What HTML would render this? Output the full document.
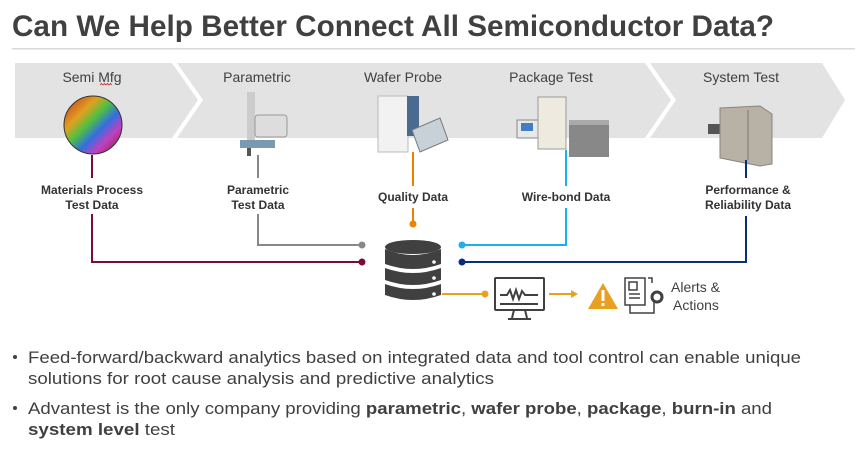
<!DOCTYPE html>
<html><head><meta charset="utf-8"><style>
html,body{margin:0;padding:0;background:#fff;}
svg{display:block;font-family:"Liberation Sans",Arial,sans-serif;}
</style></head><body>
<svg width="864" height="453" viewBox="0 0 864 453" xmlns="http://www.w3.org/2000/svg">
<defs>
<linearGradient id="wg" x1="0" y1="0" x2="1" y2="1">
<stop offset="0" stop-color="#c03020"/><stop offset="0.3" stop-color="#e0a020"/>
<stop offset="0.45" stop-color="#50c040"/><stop offset="0.6" stop-color="#3070e0"/>
<stop offset="0.75" stop-color="#c040c0"/><stop offset="1" stop-color="#802020"/>
</linearGradient>
</defs>
<!-- title -->
<text x="12" y="36" font-size="30" font-weight="bold" fill="#404040" textLength="762" lengthAdjust="spacingAndGlyphs">Can We Help Better Connect All Semiconductor Data?</text>
<rect x="12" y="48" width="843" height="1.5" fill="#d9d9d9"/>
<!-- chevron band -->
<polygon points="15,63 172,63 198,100 172,138 15,138" fill="#e3e3e3"/>
<polygon points="177,63 645,63 671,100 645,138 177,138 203,100" fill="#e3e3e3"/>
<polygon points="650,63 822,63 845,100 822,138 650,138 676,100" fill="#e3e3e3"/>
<g font-size="14" fill="#404040" text-anchor="middle">
<text x="92" y="82">Semi Mfg</text>
<text x="257" y="82">Parametric</text>
<text x="403" y="82">Wafer Probe</text>
<text x="551" y="82">Package Test</text>
<text x="741" y="82">System Test</text>
</g>
<path d="M100 85 l1.5 -1.5 l1.5 1.5 l1.5 -1.5 l1.5 1.5 l1.5 -1.5 l1.5 1.5 l1.5 -1.5 l1.5 1.5" fill="none" stroke="#d03030" stroke-width="0.8"/>
<!-- equipment -->
<circle cx="93" cy="125" r="29" fill="url(#wg)"/>
<circle cx="93" cy="125" r="29" fill="none" stroke="#333" stroke-width="1"/>
<g>
<rect x="247" y="92" width="8" height="50" fill="#ccc"/>
<rect x="255" y="115" width="32" height="22" rx="3" fill="#ddd" stroke="#999"/>
<rect x="240" y="140" width="35" height="8" fill="#7a9ab0"/>
<rect x="247" y="148" width="4" height="8" fill="#555"/>
</g>
<g>
<rect x="378" y="96" width="30" height="56" fill="#f2f2f2" stroke="#bbb"/>
<rect x="407" y="96" width="12" height="40" fill="#4a6a90"/>
<polygon points="412,130 440,118 448,140 420,152" fill="#c8d0d8" stroke="#777"/>
</g>
<g>
<rect x="517" y="120" width="22" height="18" fill="#e8e8e8" stroke="#888"/>
<rect x="521" y="123" width="12" height="8" fill="#4080c0"/>
<rect x="538" y="97" width="28" height="52" fill="#eeeae0" stroke="#999"/>
<rect x="569" y="123" width="40" height="34" fill="#888"/>
<rect x="569" y="120" width="40" height="5" fill="#aaa"/>
</g>
<g>
<rect x="708" y="124" width="12" height="10" fill="#555"/>
<polygon points="720,108 760,106 772,114 772,164 760,166 720,158" fill="#b8b2a6" stroke="#8a8478"/>
<rect x="747" y="110" width="2" height="50" fill="#9a948a"/>
</g>
<!-- labels -->
<g font-size="12" font-weight="bold" fill="#333" text-anchor="middle">
<text x="92" y="194">Materials Process</text>
<text x="92" y="209">Test Data</text>
<text x="258" y="194">Parametric</text>
<text x="258" y="209">Test Data</text>
<text x="413" y="201">Quality Data</text>
<text x="566" y="201">Wire-bond Data</text>
<text x="748" y="194">Performance &amp;</text>
<text x="748" y="209">Reliability Data</text>
</g>
<!-- connectors -->
<g fill="none" stroke-width="2">
<path d="M92 155 V178 M92 214 V262 H362" stroke="#7a0c3c"/>
<path d="M258 155 V178 M258 214 V245 H362" stroke="#888"/>
<path d="M413 152 V186 M413 208 V224" stroke="#f08000"/>
<path d="M566 150 V186 M566 208 V245 H462" stroke="#1ab0ea"/>
<path d="M746 160 V178 M746 216 V262 H462" stroke="#0a2d7a"/>
<path d="M442 294 H485 M549 294 H572" stroke="#e8a020"/>
</g>
<circle cx="362" cy="262" r="3.5" fill="#7a0c3c"/>
<circle cx="362" cy="245" r="3.5" fill="#888"/>
<circle cx="413" cy="224" r="3.5" fill="#f08000"/>
<circle cx="462" cy="245" r="3.5" fill="#1ab0ea"/>
<circle cx="462" cy="262" r="3.5" fill="#0a2d7a"/>
<circle cx="485" cy="294" r="3.5" fill="#e8a020"/>
<polygon points="571,290 578,294 571,298" fill="#e8a020"/>
<!-- database -->
<g fill="#404040">
<ellipse cx="413" cy="247" rx="28" ry="7"/>
<path d="M385 249 Q413 261 441 249 V264 Q413 274 385 264 Z"/>
<path d="M385 268 Q413 278 441 268 V280 Q413 290 385 280 Z"/>
<path d="M385 284 Q413 294 441 284 V295 Q413 305 385 295 Z"/>
</g>
<g fill="#fff"><circle cx="434" cy="262" r="1.8"/><circle cx="434" cy="278" r="1.8"/><circle cx="434" cy="294" r="1.8"/></g>
<!-- monitor -->
<g fill="none" stroke="#404040" stroke-width="2">
<rect x="495" y="278" width="49" height="32" rx="1"/>
<path d="M500 295 H507 L510 290 L513 299 L516 290 L519 299 L522 291 L525 295 H538"/>
<path d="M500 304 H538"/>
<path d="M514 310 L512 318 M525 310 L527 318 M508 319 H531"/>
</g>
<!-- warning -->
<polygon points="603,283 618,309 588,309" fill="#e8a020"/>
<rect x="601.5" y="290" width="3" height="11" fill="#fff"/>
<rect x="601.5" y="303" width="3" height="3" fill="#fff"/>
<!-- doc + gear -->
<g fill="none" stroke="#404040" stroke-width="1.5">
<rect x="625" y="278" width="20" height="27"/>
<path d="M630 305 V313 H654 V300"/>
<path d="M648 278 H652 V283"/>
<rect x="629" y="282" width="8" height="8"/>
<path d="M629 294 H640 M629 298 H640"/>
</g>
<circle cx="657" cy="297" r="5" fill="none" stroke="#404040" stroke-width="3"/>
<circle cx="657" cy="297" r="1.8" fill="#fff"/>
<g font-size="14" fill="#404040">
<text x="671" y="292">Alerts &amp;</text>
<text x="673" y="310">Actions</text>
</g>
<!-- bullets -->
<g font-size="17" fill="#404040">
<circle cx="15" cy="357" r="2" fill="#404040"/>
<text x="28" y="363" textLength="773" lengthAdjust="spacingAndGlyphs">Feed-forward/backward analytics based on integrated data and tool control can enable unique</text>
<text x="28" y="384" textLength="466" lengthAdjust="spacingAndGlyphs">solutions for root cause analysis and predictive analytics</text>
<circle cx="15" cy="408" r="2" fill="#404040"/>
<text x="28" y="414" textLength="744" lengthAdjust="spacingAndGlyphs">Advantest is the only company providing <tspan font-weight="bold">parametric</tspan>, <tspan font-weight="bold">wafer probe</tspan>, <tspan font-weight="bold">package</tspan>, <tspan font-weight="bold">burn-in</tspan> and</text>
<text x="28" y="435" textLength="147" lengthAdjust="spacingAndGlyphs"><tspan font-weight="bold">system level</tspan> test</text>
</g>
</svg>
</body></html>
